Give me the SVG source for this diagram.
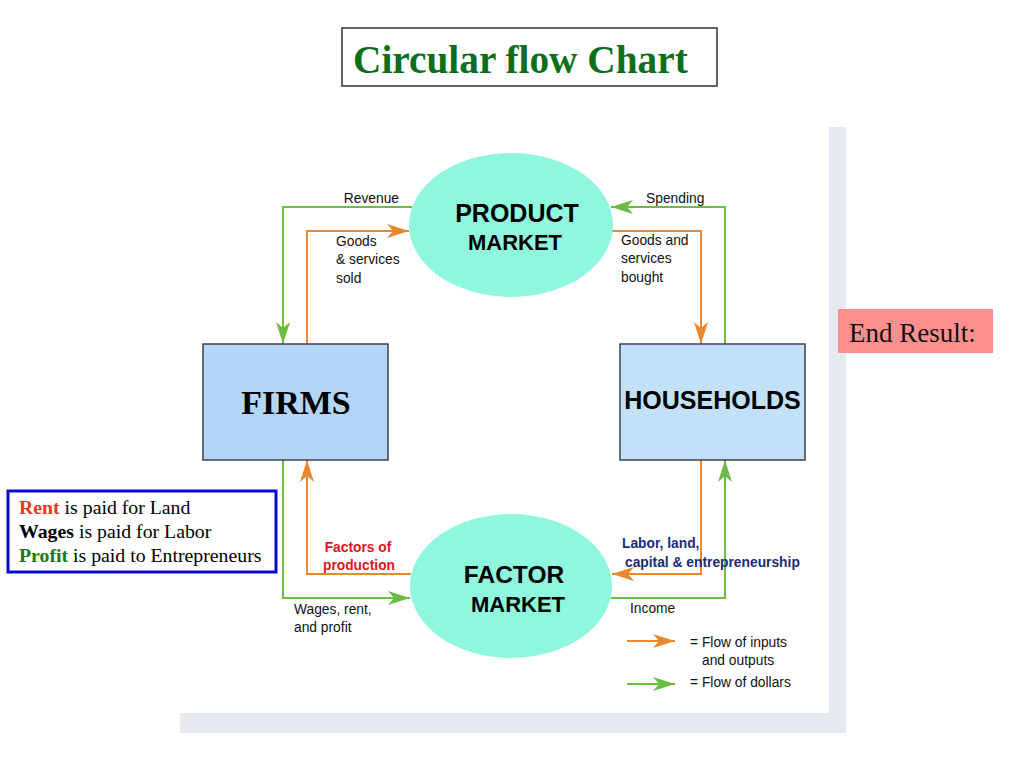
<svg xmlns="http://www.w3.org/2000/svg" width="1024" height="768" viewBox="0 0 1024 768">
<defs>
<style>
.lbl{font-family:"Liberation Sans",Arial,sans-serif;font-size:13.8px;fill:#111}
.lblb{font-family:"Liberation Sans",Arial,sans-serif;font-size:13.8px;font-weight:bold}
.node{font-family:"Liberation Sans",Arial,sans-serif;font-weight:bold;fill:#000;text-anchor:middle}
.box{stroke:#3a4250;stroke-width:1.5}
.ell{fill:#8ef7de}
.g{fill:none;stroke:#6dbb45;stroke-width:2;marker-end:url(#ag)}
.o{fill:none;stroke:#e8892f;stroke-width:2;marker-end:url(#ao)}
.tm{font-family:"Liberation Serif","Times New Roman",serif}
</style>
<marker id="ag" viewBox="0 0 22 14" refX="22" refY="7" markerWidth="22" markerHeight="14" markerUnits="userSpaceOnUse" orient="auto"><path d="M0,0 L22,7 L0,14 L6,7 Z" fill="#6dbb45"/></marker>
<marker id="ao" viewBox="0 0 22 14" refX="22" refY="7" markerWidth="22" markerHeight="14" markerUnits="userSpaceOnUse" orient="auto"><path d="M0,0 L22,7 L0,14 L6,7 Z" fill="#e8892f"/></marker>
</defs>
<rect x="0" y="0" width="1024" height="768" fill="#ffffff"/>
<g id="panel">
<rect x="180" y="127" width="666" height="606" fill="#e7e9f1"/>
<rect x="170" y="115" width="659" height="598" fill="#ffffff"/>
</g>
<g id="title">
<rect x="342" y="28" width="375" height="58" fill="#ffffff" stroke="#333" stroke-width="1.5"/>
<text x="353" y="73" class="tm" font-size="39.3" font-weight="bold" fill="#0b6e1a">Circular flow Chart</text>
</g>
<g id="connectors">
<path class="g" d="M412,207 H283 V344"/>
<path class="o" d="M307,344 V231 H409"/>
<path class="g" d="M725,344 V207 H611"/>
<path class="o" d="M612,231 H701 V344"/>
<path class="o" d="M411,574 H307 V460"/>
<path class="g" d="M283,460 V598 H410"/>
<path class="o" d="M701,460 V574 H612"/>
<path class="g" d="M611,598 H725 V460"/>
<path class="o" d="M627,641 H675"/>
<path class="g" d="M627,684 H675"/>
</g>
<g id="product-market">
<ellipse class="ell" cx="511" cy="225" rx="102" ry="72"/>
<text class="node" x="517" y="222" font-size="25">PRODUCT</text>
<text class="node" x="515" y="250" font-size="22">MARKET</text>
</g>
<g id="factor-market">
<ellipse class="ell" cx="511" cy="586" rx="101" ry="72"/>
<text class="node" x="514" y="583" font-size="24.5">FACTOR</text>
<text class="node" x="518" y="612" font-size="22">MARKET</text>
</g>
<g id="firms">
<rect class="box" x="203" y="344" width="185" height="116" fill="#b3d6f6"/>
<text x="296" y="414" class="tm" font-size="34" font-weight="bold" text-anchor="middle">FIRMS</text>
</g>
<g id="households">
<rect class="box" x="620" y="344" width="185" height="116" fill="#c2e0f8"/>
<text class="node" x="712.5" y="409" font-size="25">HOUSEHOLDS</text>
</g>
<g id="labels">
<text class="lbl" x="399" y="203" text-anchor="end">Revenue</text>
<text class="lbl" x="336" y="246">Goods</text>
<text class="lbl" x="336" y="264">&amp; services</text>
<text class="lbl" x="336" y="283">sold</text>
<text class="lbl" x="646" y="203">Spending</text>
<text class="lbl" x="621" y="245">Goods and</text>
<text class="lbl" x="621" y="263">services</text>
<text class="lbl" x="621" y="282">bought</text>
<text class="lblb" x="358" y="552" text-anchor="middle" fill="#e0141e">Factors of</text>
<text class="lblb" x="359" y="570" text-anchor="middle" fill="#e0141e">production</text>
<text class="lbl" x="294" y="614">Wages, rent,</text>
<text class="lbl" x="294" y="632">and profit</text>
<text class="lblb" x="622" y="548" fill="#1b2a78">Labor, land,</text>
<text class="lblb" x="625" y="567" fill="#1b2a78">capital &amp; entrepreneurship</text>
<text class="lbl" x="630" y="613">Income</text>
<text class="lbl" x="690" y="647">= Flow of inputs</text>
<text class="lbl" x="702" y="665">and outputs</text>
<text class="lbl" x="690" y="687">= Flow of dollars</text>
</g>
<g id="end-result">
<rect x="838" y="309" width="155" height="44" fill="#ff8f8f"/>
<text x="849" y="342" class="tm" font-size="27" fill="#111">End Result:</text>
</g>
<g id="legend-box">
<rect x="8" y="491" width="268" height="81" fill="#ffffff" stroke="#0a0ad0" stroke-width="3"/>
<text x="19" y="514" class="tm" font-size="19.8"><tspan font-weight="bold" fill="#e23c1c">Rent</tspan> is paid for Land</text>
<text x="19" y="538" class="tm" font-size="19.8"><tspan font-weight="bold">Wages</tspan> is paid for Labor</text>
<text x="19" y="562" class="tm" font-size="19.8"><tspan font-weight="bold" fill="#177a17">Profit</tspan> is paid to Entrepreneurs</text>
</g>
</svg>
